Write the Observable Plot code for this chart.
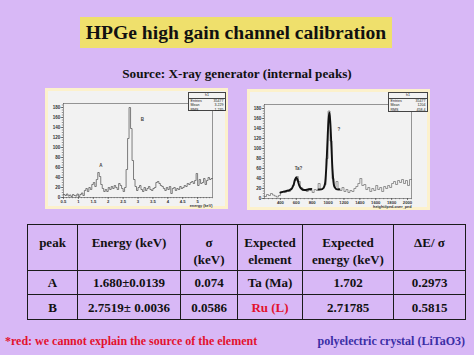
<!DOCTYPE html>
<html><head><meta charset="utf-8">
<script src="https://cdn.jsdelivr.net/npm/d3@7"></script>
<script src="https://cdn.jsdelivr.net/npm/@observablehq/plot@0.6"></script>
<style>
html,body{margin:0;padding:0;background:#d8b8f6;}
#slide{position:relative;width:474px;height:355px;background:#d8b8f6;overflow:hidden;font-family:"Liberation Serif","Times New Roman",serif;font-weight:bold;color:#111;}
#title{position:absolute;left:80px;top:17px;width:312px;height:31px;background:#efe06c;font-size:19.6px;line-height:31px;text-align:center;}
#subtitle{position:absolute;left:0;width:474px;top:66px;font-size:13.2px;line-height:15px;text-align:center;}
.panel{position:absolute;box-sizing:border-box;border:3px solid #fcf1cc;background:#f2f2f2;}
.panel svg{display:block;}
.stats{position:absolute;box-sizing:border-box;border:0.6px solid #444;background:#f2f2f2;font-family:"Liberation Sans",Arial,sans-serif;font-weight:normal;font-size:3.6px;line-height:4.6px;color:#222;}
.stats .hd{text-align:center;border-bottom:0.5px solid #444;}
.stats .row{display:flex;justify-content:space-between;padding:0 1.5px;}
#tbl{position:absolute;left:27px;top:224px;width:438px;border-collapse:collapse;table-layout:fixed;font-family:"Liberation Serif","Times New Roman",serif;font-weight:bold;font-size:13px;color:#111;}
#tbl td{border:1.5px solid #1b1b1b;text-align:center;padding:0;white-space:nowrap;}
#tbl tr.hdr td{height:46px;vertical-align:top;padding-top:9px;line-height:17px;box-sizing:border-box;}
#tbl tr.r td{vertical-align:middle;line-height:15px;}
#note{position:absolute;left:5px;top:334px;font-size:12px;color:#e3122e;}
#crystal{position:absolute;right:9px;top:334px;font-size:12px;color:#3b2ea6;}
</style></head>
<body><div id="slide">
<div id="title">HPGe high gain channel calibration</div>
<div id="subtitle">Source: X-ray generator (internal peaks)</div>
<div class="panel" id="pl" style="left:45px;top:88px;width:183px;height:121px;"></div>
<div class="panel" id="pr" style="left:247px;top:89px;width:183px;height:121px;"></div>
<table id="tbl"></table>
<div id="note">*red: we cannot explain the source of the element</div>
<div id="crystal">polyelectric crystal (LiTaO3)</div>
</div>
<script>
// ---------- data ----------
const leftStart = 0.5, leftBinWidth = 0.05;
const leftCounts = [6,4,7,3,5,2,6,4,3,7, 2,6,9,4,14,18,12,20,16,26,
  30,22,36,50,42,26,18,12,16,12, 20,16,22,18,24,20,16,28,24,18,
  12,20,56,118,180,138,74,36,22,14, 20,24,16,12,20,14,18,22,16,14,
  18,20,30,32,28,24,22,18,14,20, 16,22,8,18,20,14,18,16,22,18,
  20,24,22,28,26,30,32,28,34,48, 24,36,28,30,38,26,34,40,36,38];
const leftXTicks = [0.5,1,1.5,2,2.5,3,3.5,4,4.5,5];
const yTicks = [0,20,40,60,80,100,120,140,160,180];
const leftPeakLabels = ["A","B"], leftPeakX = [1.75,3.15], leftPeakY = [64,156];
const leftAxisTitle = "energy (keV)";
const leftStats = [["Entries","35477"],["Mean","3.229"],["RMS","1.235"]];

const rightStart = 200, rightBinWidth = 25;
const rightCounts = [4,8,6,10,7,5,3,6, 12,14,12,16,14,20,26,36,
  44,34,22,16,18,14,20,16, 12,18,16,30,18,20,28,80,
  175,115,40,22,34,20,16,22, 14,18,12,16,14,20,24,30,
  40,26,28,18,22,14,20,16, 26,18,22,14,24,20,26,22,
  30,34,28,36,32,38,30,36, 26,38];
const rightXTicks = [400,600,800,1000,1200,1400,1600,1800,2000];
const fit1X = [400,450,500,540,565,585,600,615,635,660,700,750,790];
const fit1Y = [12,14,16,19,27,38,42,38,27,20,17,18,19];
const fit2X = [880,930,955,975,990,1005,1016,1027,1042,1057,1077,1100,1140];
const fit2Y = [18,19,25,55,105,155,172,155,105,55,25,19,18];
const rightPeakLabels = ["Ta?","?"], rightPeakX = [628,1135], rightPeakY = [60,137];
const rightAxisTitle = "height#ped-over_ped";
const rightStats = [["Entries","35477"],["Mean","1204"],["RMS","458.4"]];

const headers = ["peak","Energy (keV)","σ<br>(keV)","Expected<br>element","Expected<br>energy (keV)","ΔE/ σ"];
const colWidths = [50,103,57,65,91,72];
const peaks = ["A","B"];
const energies = ["1.680±0.0139","2.7519± 0.0036"];
const sigmas = ["0.074","0.0586"];
const elements = ["Ta (Ma)","Ru (L)"];
const elementUnexplained = [false,true];
const expectedEnergies = ["1.702","2.71785"];
const ratios = ["0.2973","0.5815"];

// ---------- helpers ----------
function stepPoints(start, w, counts) {
  const pts = counts.map((c, i) => ({x: start + i * w, y: c}));
  pts.push({x: start + counts.length * w, y: counts[counts.length - 1]});
  return pts;
}
const tickFont = "Liberation Sans, Arial, sans-serif";

function histPlot(o) {
  return Plot.plot({
    width: 177, height: 115,
    marginLeft: o.ml, marginRight: o.mr, marginTop: 12, marginBottom: 9,
    style: {background: "#f2f2f2", fontFamily: tickFont, color: "#333", overflow: "visible"},
    x: {domain: o.xDomain},
    y: {domain: [0, 188]},
    marks: [
      Plot.axisY(d3.range(0, 186, 5), {tickSize: 1.2, text: null, label: null, strokeWidth: 0.5}),
      Plot.axisY(yTicks, {tickSize: 2.5, tickPadding: 0.8, fontSize: 4.5, label: null, strokeWidth: 0.6}),
      Plot.axisX(o.minorX, {tickSize: 1.2, text: null, label: null, strokeWidth: 0.5}),
      Plot.axisX(o.xTicks, {tickSize: 2, tickPadding: 0.2, fontSize: 4.2, label: null, strokeWidth: 0.6, tickFormat: d => String(d)}),
      Plot.line(o.pts, {x: "x", y: "y", curve: "step-after", stroke: o.histColor, strokeWidth: 0.8}),
      ...(o.fits || []).map(f => Plot.line(f, {x: "x", y: "y", curve: "catmull-rom", stroke: "#111", strokeWidth: 1.9})),
      Plot.frame({stroke: "#555", strokeWidth: 0.6}),
      Plot.text(o.labels, {x: "x", y: "y", text: "t", fontSize: 4.5, fill: "#444"}),
      Plot.text([o.axisTitle], {frameAnchor: "bottom-right", dy: 9.8, fontSize: 3.8, textAnchor: "end", fill: "#333"})
    ]
  });
}
function statsBox(parent, rows, left, top, w, h) {
  const box = document.createElement("div");
  box.className = "stats";
  Object.assign(box.style, {left: left + "px", top: top + "px", width: w + "px", height: h + "px"});
  let html = '<div class="hd">h1</div>';
  for (const [k, v] of rows) html += `<div class="row"><span>${k}</span><span>${v}</span></div>`;
  box.innerHTML = html;
  parent.appendChild(box);
}

// ---------- left panel ----------
const pl = document.getElementById("pl");
pl.appendChild(histPlot({
  ml: 15, mr: 13, xDomain: [0.5, 5.5], xTicks: leftXTicks,
  minorX: d3.range(0.5, 5.51, 0.1),
  pts: stepPoints(leftStart, leftBinWidth, leftCounts),
  histColor: "#5e5e5e",
  labels: leftPeakLabels.map((t, i) => ({t, x: leftPeakX[i], y: leftPeakY[i]})),
  axisTitle: leftAxisTitle
}));
statsBox(pl, leftStats, 140, 1, 38, 19);

// ---------- right panel ----------
const pr = document.getElementById("pr");
pr.appendChild(histPlot({
  ml: 14, mr: 16, xDomain: [200, 2050], xTicks: rightXTicks,
  minorX: d3.range(200, 2051, 50),
  pts: stepPoints(rightStart, rightBinWidth, rightCounts),
  histColor: "#7a7a7a",
  fits: [fit1X.map((x, i) => ({x, y: fit1Y[i]})), fit2X.map((x, i) => ({x, y: fit2Y[i]}))],
  labels: rightPeakLabels.map((t, i) => ({t, x: rightPeakX[i], y: rightPeakY[i]})),
  axisTitle: rightAxisTitle
}));
statsBox(pr, rightStats, 138, 0, 40, 20);

// ---------- table ----------
const tbl = d3.select("#tbl");
const cg = tbl.append("colgroup");
colWidths.forEach(w => cg.append("col").style("width", w + "px"));
const hr = tbl.append("tr").attr("class", "hdr");
headers.forEach(h => hr.append("td").html(h));
peaks.forEach((p, i) => {
  const tr = tbl.append("tr").attr("class", "r").style("height", (i === 0 ? 24 : 25) + "px");
  tr.append("td").text(p);
  tr.append("td").text(energies[i]);
  tr.append("td").text(sigmas[i]);
  tr.append("td").text(elements[i]).style("color", elementUnexplained[i] ? "#e3122e" : null);
  tr.append("td").text(expectedEnergies[i]);
  tr.append("td").text(ratios[i]);
});
</script>
</body></html>
